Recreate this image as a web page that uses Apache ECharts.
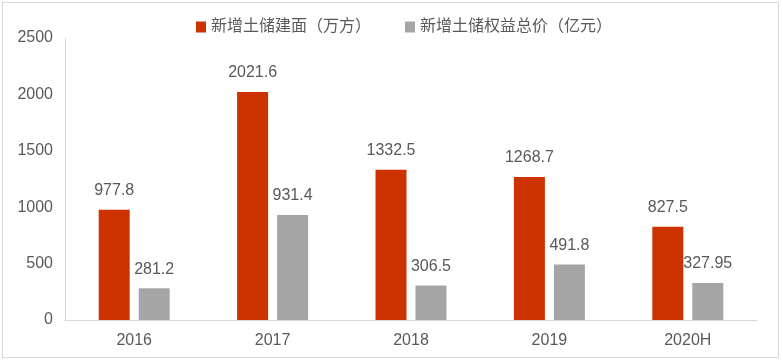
<!DOCTYPE html>
<html><head><meta charset="utf-8">
<script src="https://cdn.jsdelivr.net/npm/echarts@6/dist/echarts.min.js"></script>
<style>html,body{margin:0;padding:0;background:#fff}
#c{position:absolute;left:2px;top:2px;width:777px;height:356px;border:1px solid #d9d9d9;box-sizing:border-box}</style>
</head><body><div id="c"></div>
<script>
const categories = ['2016','2017','2018','2019','2020H'];
const areaValues = [977.8, 2021.6, 1332.5, 1268.7, 827.5];
const priceValues = [281.2, 931.4, 306.5, 491.8, 327.95];
const areaName = '新增土储建面（万方）';
const priceName = '新增土储权益总价（亿元）';
const yTicks = {min:0, max:2500, interval:500};

const font = '"Liberation Sans", "Noto Sans CJK SC", sans-serif';
const chart = echarts.init(document.getElementById('c'));
chart.setOption({
  animation:false,
  textStyle:{fontFamily:font, color:'#595959'},
  legend:{top:11, left:188, itemWidth:10, itemHeight:11, itemGap:34, icon:'rect',
    textStyle:{fontSize:16, color:'#595959', fontFamily:font},
    data:[areaName, priceName]},
  grid:{left:62, right:21, top:35, bottom:37},
  xAxis:{type:'category', data:categories,
    axisLine:{lineStyle:{color:'#d9d9d9'}}, axisTick:{show:false},
    axisLabel:{fontSize:16, color:'#595959', margin:13}},
  yAxis:{type:'value', min:yTicks.min, max:yTicks.max, interval:yTicks.interval,
    axisLine:{show:true, lineStyle:{color:'#d9d9d9'}}, axisTick:{show:false},
    splitLine:{show:false},
    axisLabel:{fontSize:16, color:'#595959', margin:12, formatter:v=>String(v)}},
  series:[
    {name:areaName, type:'bar', data:areaValues, barWidth:31, barGap:'29%',
     itemStyle:{color:'#CC3300'},
     label:{show:true, position:'top', distance:11, fontSize:16, color:'#595959'}},
    {name:priceName, type:'bar', data:priceValues, barWidth:31,
     itemStyle:{color:'#A5A5A5'},
     label:{show:true, position:'top', distance:11, fontSize:16, color:'#595959'}}
  ]
});
</script></body></html>
